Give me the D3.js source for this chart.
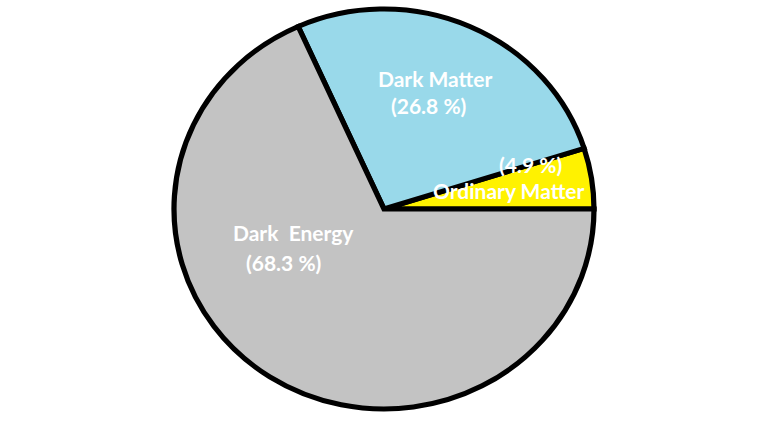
<!DOCTYPE html>
<html>
<head>
<meta charset="utf-8">
<script src="https://cdn.jsdelivr.net/npm/d3@7"></script>
<style>
  body { margin: 0; background: #fff; }
  text { font-family: Lato, "Open Sans", sans-serif; font-weight: bold; fill: #fff; }
</style>
</head>
<body>
<div id="chart-area"></div>
<script>
// composition of the universe
const components = ['Ordinary Matter', 'Dark Matter', 'Dark Energy']
const shares = [4.9, 26.8, 68.3]
const colours = ['#fff200', '#99d9ea', '#c3c3c3']

const width = 768
const height = 432
const cx = 384
const cy = 209
const radius = 200

const svg = d3.select('#chart-area').append('svg')
  .attr('width', width)
  .attr('height', height)

// slightly wider than tall, like the drawing
const g = svg.append('g')
  .attr('transform', `translate(${cx},${cy}) scale(1.05,1)`)

const data = components.map((name, i) => ({name, value: shares[i], colour: colours[i]}))

// start at 3 o'clock and go anticlockwise
const pie = d3.pie()
  .sort(null)
  .value(d => d.value)
  .startAngle(Math.PI / 2)
  .endAngle(Math.PI / 2 - 2 * Math.PI)

const arc = d3.arc()
  .innerRadius(0)
  .outerRadius(radius)

g.selectAll('path.slice')
  .data(pie(data))
  .enter().append('path')
    .attr('class', 'slice')
    .attr('d', arc)
    .attr('fill', d => d.data.colour)
    .attr('stroke', '#000')
    .attr('stroke-width', 5)
    .attr('stroke-linejoin', 'miter')

// hand-placed labels, offsets from the pie centre
const labelLines = [
  {text: 'Dark Matter', dx: -6, dy: -122},
  {text: '(26.8 %)', dx: 7, dy: -95},
  {text: '(4.9 %)', dx: 115, dy: -36},
  {text: 'Ordinary Matter', dx: 49, dy: -10},
  {text: 'Dark\u00a0\u00a0Energy', dx: -151, dy: 32},
  {text: '(68.3 %)', dx: -138, dy: 62}
]

svg.append('g')
  .attr('transform', `translate(${cx},${cy})`)
  .selectAll('text')
  .data(labelLines)
  .enter().append('text')
    .attr('x', d => d.dx)
    .attr('y', d => d.dy)
    .attr('font-size', 21)
    .text(d => d.text)
</script>
</body>
</html>
